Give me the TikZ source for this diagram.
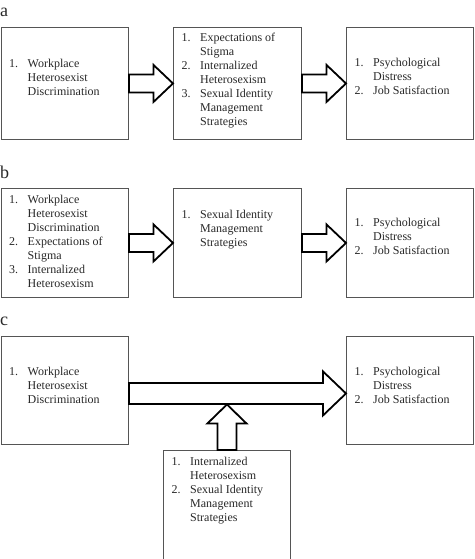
\documentclass[tikz,border=0pt]{standalone}
\usepackage{fontspec}
\setmainfont{Liberation Serif}
\usetikzlibrary{calc}
\definecolor{boxgray}{RGB}{85,85,85}
\definecolor{txtgray}{RGB}{40,40,40}
\newcommand{\steplist}[1]{\begin{tabular}[t]{@{}p{18.5pt}@{}l@{}}#1\end{tabular}}

\begin{document}
\begin{tikzpicture}
[x=1pt,y=-1pt,%
  boxDecorate/.style={draw=boxgray,line width=0.9pt,anchor=north west,inner sep=0pt},%
  arrowDecorate/.style={draw=black,line width=1.8pt,fill=white,line join=miter},%
  listDecorate/.style={anchor=base west,inner sep=0pt,text=txtgray,font=\fontsize{12}{14}\selectfont},%
  panelDecorate/.style={anchor=base west,inner sep=0pt,text=txtgray,font=\fontsize{18}{20}\selectfont}]
\clip (0,0) rectangle (474,559);
%% boxes
\foreach \nodename/\x/\y/\w/\h in {
  a1/0.5/27/127.5/112, a2/173/27/128/112, a3/346/27/126.5/112,
  b1/0.5/188/127.5/109, b2/173/188/128/109, b3/346/188/126.5/109,
  c1/0.5/336/127.5/108, c2/163/450/127/120, c3/346/336/126.5/108}
{
  \node[boxDecorate,minimum width=\w,minimum height=\h] (\nodename) at (\x,\y) {};
}
%% panel labels
\node[panelDecorate] (la) at (0,17) {a};
\node[panelDecorate] (lb) at (0,178) {b};
\node[panelDecorate] (lc) at (0,325) {c};
%% box texts
\node[listDecorate] (ta1) at ($(a1.north west)+(8.5,41)$)
  {\steplist{1. & Workplace\\ & Heterosexist\\ & Discrimination}};
\node[listDecorate] (ta2) at ($(a2.north west)+(8.5,15)$)
  {\steplist{1. & Expectations of\\ & Stigma\\ 2. & Internalized\\ & Heterosexism\\
   3. & Sexual Identity\\ & Management\\ & Strategies}};
\node[listDecorate] (ta3) at ($(a3.north west)+(8.5,40)$)
  {\steplist{1. & Psychological\\ & Distress\\ 2. & Job Satisfaction}};
\node[listDecorate] (tb1) at ($(b1.north west)+(8.5,15)$)
  {\steplist{1. & Workplace\\ & Heterosexist\\ & Discrimination\\ 2. & Expectations of\\
   & Stigma\\ 3. & Internalized\\ & Heterosexism}};
\node[listDecorate] (tb2) at ($(b2.north west)+(8.5,30)$)
  {\steplist{1. & Sexual Identity\\ & Management\\ & Strategies}};
\node[listDecorate] (tb3) at ($(b3.north west)+(8.5,38)$)
  {\steplist{1. & Psychological\\ & Distress\\ 2. & Job Satisfaction}};
\node[listDecorate] (tc1) at ($(c1.north west)+(8.5,39)$)
  {\steplist{1. & Workplace\\ & Heterosexist\\ & Discrimination}};
\node[listDecorate] (tc2) at ($(c2.north west)+(8.5,15)$)
  {\steplist{1. & Internalized\\ & Heterosexism\\ 2. & Sexual Identity\\ & Management\\
   & Strategies}};
\node[listDecorate] (tc3) at ($(c3.north west)+(8.5,39)$)
  {\steplist{1. & Psychological\\ & Distress\\ 2. & Job Satisfaction}};
%% block arrows of panels a and b
\foreach \from/\to in {a1/a2, a2/a3, b1/b2, b2/b3}
{
  \draw[arrowDecorate] ($(\from.east)+(0,-9)$) -- ($(\to.west)+(-19.5,-9)$)
    -- ($(\to.west)+(-19.5,-18.5)$) -- (\to.west) -- ($(\to.west)+(-19.5,18.5)$)
    -- ($(\to.west)+(-19.5,9)$) -- ($(\from.east)+(0,9)$) -- cycle;
}
%% block arrows of panel c
\coordinate (ctail) at ($(c1.east)+(0,3)$);
\coordinate (ctip) at ($(c3.west)+(0,3)$);
\coordinate (cjoin) at ($(c2.north |- ctip)+(0,11)$);
\draw[arrowDecorate] ($(c2.north)+(-9.5,0)$) -- ($(cjoin)+(-9.5,19)$)
  -- ($(cjoin)+(-19.5,19)$) -- (cjoin) -- ($(cjoin)+(19.5,19)$)
  -- ($(cjoin)+(9.5,19)$) -- ($(c2.north)+(9.5,0)$) -- cycle;
\draw[arrowDecorate] ($(ctail)+(0,-10.5)$) -- ($(ctip)+(-23,-10.5)$)
  -- ($(ctip)+(-23,-22)$) -- (ctip) -- ($(ctip)+(-23,22)$)
  -- ($(ctip)+(-23,10.5)$) -- ($(ctail)+(0,10.5)$) -- cycle;
\end{tikzpicture}
\end{document}
